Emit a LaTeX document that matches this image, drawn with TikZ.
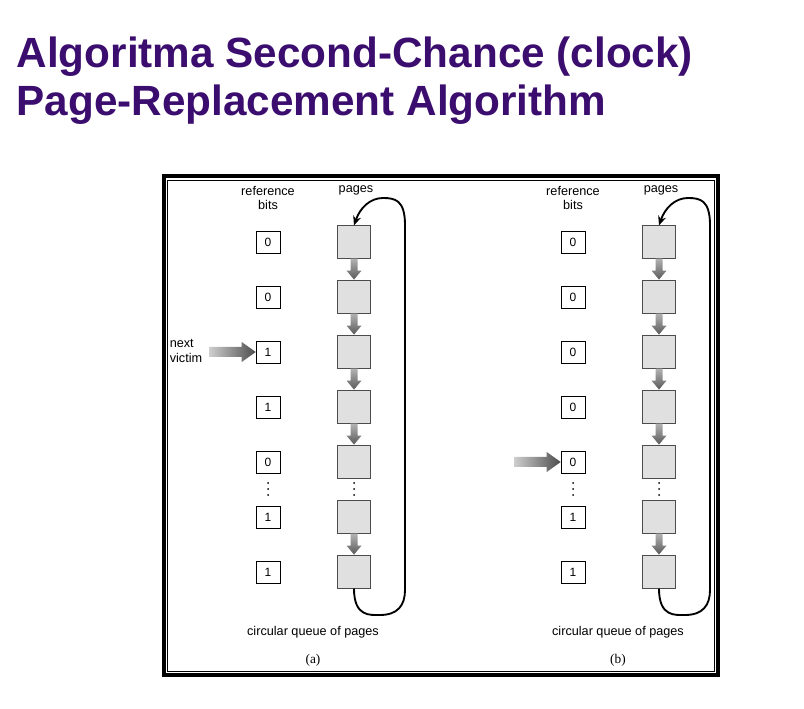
\documentclass[tikz,border=0pt]{standalone}
\usepackage{fontspec}
\setmainfont{Liberation Sans}
\newfontfamily\serifff{Liberation Serif}
\usetikzlibrary{arrows.meta}
\definecolor{ttl}{HTML}{3B0D6E}
\begin{document}
\begin{tikzpicture}[x=0.75pt,y=-0.75pt,
  bitbox/.style={draw,fill=white,minimum width=18pt,minimum height=16.5pt,inner sep=0pt,font=\fontsize{9}{10}\selectfont},
  pagebox/.style={draw=black!70,fill=black!12,minimum width=24.5pt,minimum height=24.5pt,inner sep=0pt},
  lbl/.style={font=\fontsize{9.5}{11}\selectfont,align=center},
  downarr/.style={top color=black!30,bottom color=black!65},
  bigarr/.style={left color=black!20,right color=black!70},
  loopline/.style={line width=1.4pt,-{Stealth[length=7pt,width=6pt]}}]
\useasboundingbox (0,0) rectangle (804,709);
\node[anchor=west,text=ttl,font=\bfseries\fontsize{31.7}{34}\selectfont] (t1) at (12,57) {Algoritma Second-Chance (clock)};
\node[anchor=west,text=ttl,font=\bfseries\fontsize{31.7}{34}\selectfont] (t2) at (12,105) {Page-Replacement Algorithm};
\draw[line width=3pt] (163.5,176.5) rectangle (717.5,674.5);
\draw[line width=0.6pt] (167,180) rectangle (714,671);
\foreach \p/\dx/\bits in {a/0/{0,0,1,1,0,1,1},b/305/{0,0,0,0,0,1,1}}{
  \begin{scope}[xshift=\dx*0.75pt]
  \node[lbl] (rb\p) at (268,198) {reference\\bits};
  \node[lbl] (pg\p) at (356,190) {pages};
  \foreach \b [count=\i] in \bits {
    \pgfmathsetmacro\yy{242+55*(\i-1)}
    \node[bitbox] (bit\p\i) at (268,\yy) {\b};
    \node[pagebox] (page\p\i) at (354,\yy) {};
  }
  \foreach \i in {1,2,3,4,6}{
    \shade[downarr] (page\p\i.south) ++(-3.5,0) -- ++(0,12) -- ++(-4,0) -- ++(7.5,9) -- ++(7.5,-9) -- ++(-4,0) -- ++(0,-12) -- cycle;
  }
  \foreach \xx in {268,354}{
    \foreach \yo in {483,489,495}{\fill (\xx,\yo) circle (1);}
  }
  \draw[loopline] (page\p7.south) .. controls (354,617) and (370,615) .. (380,615)
     .. controls (398,615) and (405,605) .. (405,590) -- (405,225)
     .. controls (405,200) and (395,198) .. (383,198)
     .. controls (370,198) and (360,208) .. (page\p1.north);
  \node[lbl] (cq\p) at (313,632) {circular queue of pages};
  \node[font=\serifff\fontsize{10}{11}\selectfont] (lab\p) at (313,660) {(\p)};
  \end{scope}
}
\node[lbl,align=left] (nv) at (186,351) {next\\victim};
\shade[bigarr] (bita3.west) -- ++(-14,-10) -- ++(0,5) -- ++(-32,0) -- ++(0,10) -- ++(32,0) -- ++(0,5) -- cycle;
\shade[bigarr] (bitb5.west) -- ++(-14,-10) -- ++(0,5) -- ++(-32,0) -- ++(0,10) -- ++(32,0) -- ++(0,5) -- cycle;
\end{tikzpicture}
\end{document}
